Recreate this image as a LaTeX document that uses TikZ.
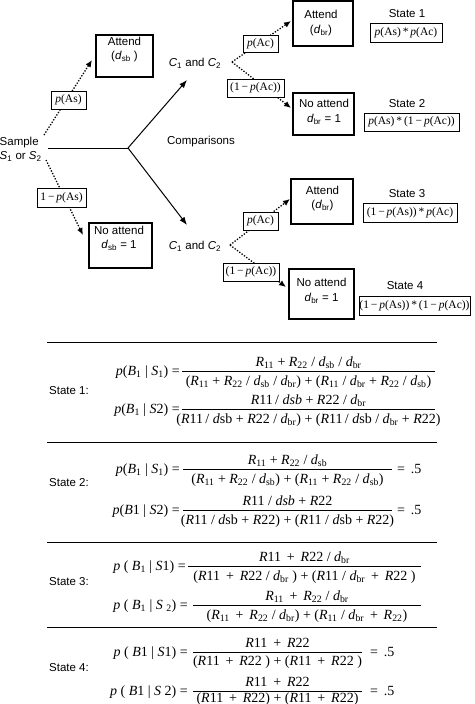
\documentclass[tikz,border=0pt]{standalone}
\usepackage{fontspec}
\setmainfont{Liberation Serif}
\newfontfamily\sfn{Liberation Sans}
\usetikzlibrary{arrows.meta}
\newcommand\It[1]{\textit{#1}}
\newcommand\sbs[1]{\textsubscript{#1}}
\newcommand\frc[8]{%
  \coordinate (#1-l) at (#2,#4); \coordinate (#1-r) at (#3,#4);
  \draw[fbar] (#1-l) -- (#1-r);
  \node[eqt, anchor=base] (#1-n) at ({(#2+#3)/2},#5) {#7};
  \node[eqt, anchor=base] (#1-d) at ({(#2+#3)/2},#6) {#8};
}
\begin{document}
\begin{tikzpicture}[x=1pt,y=-1pt,
  bigbox/.style={draw, line width=1.1pt, fill=white, inner sep=0},
  lbox/.style={draw, line width=0.8pt, fill=white, inner sep=0, font=\fontsize{11.5}{14}\selectfont},
  stxt/.style={font=\sfn\fontsize{11.5}{14.5}\selectfont, align=center, inner sep=0},
  dotl/.style={line width=1.3pt, dash pattern=on 1.3pt off 1.6pt},
  dota/.style={dotl, -{Latex[length=7pt,width=6pt]}},
  sola/.style={line width=1pt, -{Latex[length=8pt,width=6pt]}},
  eqt/.style={font=\fontsize{14}{16}\selectfont, inner sep=0},
  rulel/.style={line width=1pt},
  fbar/.style={line width=0.7pt}]
\useasboundingbox (0,0) rectangle (474,704);
% ---------- tree: coordinates and connectors ----------
\coordinate (h0) at (48,148); \coordinate (J) at (128,148);
\coordinate (tU) at (187,80); \coordinate (tD) at (187,225);
\coordinate (sU) at (44,135); \coordinate (aU) at (92,60);
\coordinate (sD) at (46,160); \coordinate (aD) at (83,235);
\coordinate (q1) at (232,62); \coordinate (a1) at (291,21); \coordinate (a2) at (291,108);
\coordinate (q2) at (230,245); \coordinate (a3) at (290,199); \coordinate (a4) at (286,287);
\draw[line width=1pt] (h0) -- (J);
\draw[sola] (J) -- (tU);
\draw[sola] (J) -- (tD);
\draw[dota] (sU) -- (aU);
\draw[dota] (sD) -- (aD);
\draw[dota] (q1) -- (a1);
\draw[dota] (q1) -- (a2);
\draw[dota] (q2) -- (a3);
\draw[dota] (q2) -- (a4);
% ---------- boxes ----------
\node[bigbox, minimum width=57pt, minimum height=42pt] (atsb) at (124.5,56) {};
\node[stxt] (atsbT) at (124.5,49.5) {Attend\\(\It{d}\sbs{sb} )};
\node[bigbox, minimum width=63pt, minimum height=45pt] (nasb) at (120.5,245.5) {};
\node[stxt] (nasbT) at (119,238.5) {No attend\\\It{d}\sbs{sb} = 1};
\node[bigbox, minimum width=60pt, minimum height=45pt] (at1) at (323,23.5) {};
\node[stxt] (at1T) at (321,23) {Attend\\(\It{d}\sbs{br})};
\node[bigbox, minimum width=61pt, minimum height=42pt] (na1) at (323.5,114) {};
\node[stxt] (na1T) at (324,112) {No attend\\\It{d}\sbs{br} = 1};
\node[bigbox, minimum width=62pt, minimum height=45pt] (at2) at (322,201.5) {};
\node[stxt] (at2T) at (322.5,198.5) {Attend\\(\It{d}\sbs{br})};
\node[bigbox, minimum width=65pt, minimum height=50pt] (na2) at (321.5,294) {};
\node[stxt] (na2T) at (321.5,291) {No attend\\\It{d}\sbs{br} = 1};
% label boxes
\node[lbox, minimum width=35pt, minimum height=18pt] (pAs) at (68.5,100) {\It{p}(As)};
\node[lbox, minimum width=49pt, minimum height=19pt] (mpAs) at (61.5,197.5) {1\,−\,\It{p}(As)};
\node[lbox, minimum width=35pt, minimum height=17pt] (pAc1) at (260.5,43.5) {\It{p}(Ac)};
\node[lbox, minimum width=57pt, minimum height=18pt] (mpAc1) at (255.5,88) {(1\,−\,\It{p}(Ac))};
\node[lbox, minimum width=35pt, minimum height=18pt] (pAc2) at (260.5,221) {\It{p}(Ac)};
\node[lbox, minimum width=56pt, minimum height=18pt] (mpAc2) at (251,272) {(1\,−\,\It{p}(Ac))};
% state boxes
\node[lbox, minimum width=72pt, minimum height=19pt] (s1b) at (406,32.5) {\It{p}(As)\,*\,\It{p}(Ac)};
\node[lbox, minimum width=95pt, minimum height=18pt] (s2b) at (411.5,122) {\It{p}(As)\,*\,(1\,−\,\It{p}(Ac))};
\node[lbox, minimum width=94pt, minimum height=19pt] (s3b) at (410,212.5) {(1\,−\,\It{p}(As))\,*\,\It{p}(Ac)};
\node[lbox, minimum width=111pt, minimum height=19pt] (s4b) at (414.5,305.5) {(1\,−\,\It{p}(As))\,*\,(1\,−\,\It{p}(Ac))};
\node[stxt] (st1) at (407,14) {State 1};
\node[stxt] (st2) at (407,104) {State 2};
\node[stxt] (st3) at (407,194) {State 3};
\node[stxt] (st4) at (405,286) {State 4};
% texts
\node[stxt, align=left, anchor=west] (sample) at (-0.5,149) {Sample\\\It{S}\sbs{1} or \It{S}\sbs{2}};
\node[stxt] (c1) at (195,63) {\It{C}\sbs{1} and \It{C}\sbs{2}};
\node[stxt] (c2) at (195,246) {\It{C}\sbs{1} and \It{C}\sbs{2}};
\node[stxt] (cmp) at (201,142) {Comparisons};
% ---------- equations ----------
\coordinate (r1a) at (47,342); \coordinate (r1b) at (437,342);
\coordinate (r2a) at (47,442); \coordinate (r2b) at (437,442);
\coordinate (r3a) at (47,542); \coordinate (r3b) at (437,542);
\coordinate (r4a) at (47,627); \coordinate (r4b) at (437,627);
\draw[rulel] (r1a) -- (r1b);
\draw[rulel] (r2a) -- (r2b);
\draw[rulel] (r3a) -- (r3b);
\draw[rulel] (r4a) -- (r4b);
\node[stxt, anchor=west] (lab1) at (49,391) {State 1:};
\node[stxt, anchor=west] (lab2) at (49,483) {State 2:};
\node[stxt, anchor=west] (lab3) at (49,582) {State 3:};
\node[stxt, anchor=west] (lab4) at (49,668) {State 4:};
% State 1
\node[eqt, anchor=base east] (e11-lhs) at (180,375) {\It{p}(\It{B}\sbs{1} | \It{S}\sbs{1}) =};
\frc{e11}{182}{435}{371}{366}{385}
  {\It{R}\sbs{11} + \It{R}\sbs{22} / \It{d}\sbs{sb} / \It{d}\sbs{br}}
  {(\It{R}\sbs{11} + \It{R}\sbs{22} / \It{d}\sbs{sb} / \It{d}\sbs{br}) + (\It{R}\sbs{11} / \It{d}\sbs{br} + \It{R}\sbs{22} / \It{d}\sbs{sb})}
\node[eqt, anchor=base east] (e12-lhs) at (180,413) {\It{p}(\It{B}\sbs{1} | \It{S}2) =};
\frc{e12}{182}{435}{409}{404}{423}
  {\It{R}11\,/ \It{dsb} + \It{R}22 / \It{d}\sbs{br}}
  {(\It{R}11\,/ \It{d}sb + \It{R}22 / \It{d}\sbs{br}) + (\It{R}11\,/ \It{d}sb / \It{d}\sbs{br} + \It{R}22)}
% State 2
\node[eqt, anchor=base east] (e21-lhs) at (180,473) {\It{p}(\It{B}\sbs{1} | \It{S}\sbs{1}) =};
\frc{e21}{183}{392}{469}{464}{483}
  {\It{R}\sbs{11} + \It{R}\sbs{22} / \It{d}\sbs{sb}}
  {(\It{R}\sbs{11} + \It{R}\sbs{22} / \It{d}\sbs{sb}) + (\It{R}\sbs{11} + \It{R}\sbs{22} / \It{d}\sbs{sb})}
\node[eqt, anchor=base west] (e21-h) at (397,473) {= \,.5};
\node[eqt, anchor=base east] (e22-lhs) at (180,514) {\It{p}(\It{B}1 | \It{S}2) =};
\frc{e22}{183}{392}{510}{505}{524}
  {\It{R}11 / \It{dsb} + \It{R}22}
  {(\It{R}11 / \It{d}sb + \It{R}22) + (\It{R}11 / \It{d}sb + \It{R}22)}
\node[eqt, anchor=base west] (e22-h) at (397,514) {= \,.5};
% State 3
\node[eqt, anchor=base east] (e31-lhs) at (186,570) {\It{p} ( \It{B}\sbs{1} | \It{S}1) =};
\frc{e31}{188}{421}{566}{561}{580}
  {\It{R}11 \,+\, \It{R}22 / \It{d}\sbs{br}}
  {(\It{R}11 \,+\, \It{R}22 / \It{d}\sbs{br} ) + (\It{R}11 / \It{d}\sbs{br} \,+\, \It{R}22 )}
\node[eqt, anchor=base east] (e32-lhs) at (188,609) {\It{p} ( \It{B}\sbs{1} | \It{S} \sbs{2}) =};
\frc{e32}{193}{421}{605}{600}{619}
  {\It{R}\sbs{11} \,+\, \It{R}\sbs{22} / \It{d}\sbs{br}}
  {(\It{R}\sbs{11} \,+\, \It{R}\sbs{22} / \It{d}\sbs{br}) + (\It{R}\sbs{11} / \It{d}\sbs{br} \,+\, \It{R}\sbs{22})}
% State 4
\node[eqt, anchor=base east] (e41-lhs) at (188,656) {\It{p} ( \It{B}1 | \It{S}1) =};
\frc{e41}{193}{362}{652}{647}{665}
  {\It{R}11 \,+\, \It{R}22}
  {(\It{R}11 \,+\, \It{R}22 ) + (\It{R}11 \,+\, \It{R}22 )}
\node[eqt, anchor=base west] (e41-h) at (370,656) {= \,.5};
\node[eqt, anchor=base east] (e42-lhs) at (188,695) {\It{p} ( \It{B}1 | \It{S} 2) =};
\frc{e42}{193}{362}{691}{686}{702}
  {\It{R}11 \,+\, \It{R}22}
  {(\It{R}11 \,+\, \It{R}22) + (\It{R}11 \,+\, \It{R}22)}
\node[eqt, anchor=base west] (e42-h) at (370,695) {= \,.5};
\end{tikzpicture}
\end{document}
